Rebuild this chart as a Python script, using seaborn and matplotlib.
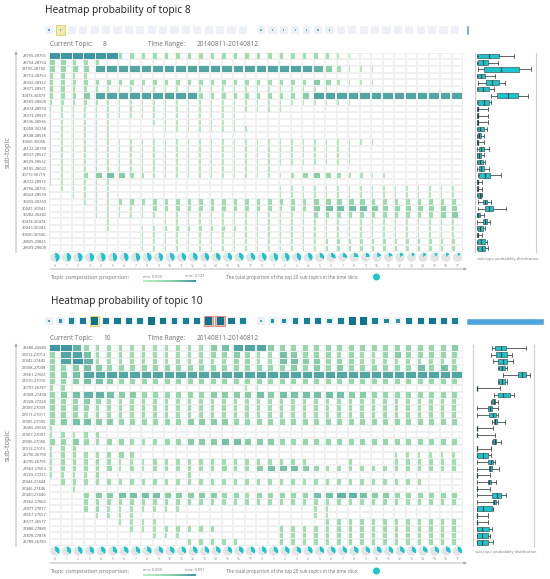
import numpy as np
import pandas as pd
import matplotlib
matplotlib.use("Agg")
import matplotlib.pyplot as plt
import seaborn as sns
from matplotlib.colors import LinearSegmentedColormap, ListedColormap
from matplotlib.patches import Circle

# ------------------------------------------------------------------ data
slot_labels = [str(i) for i in range(18)] * 2          # 2 days x 18 time slices

t8_title = "Heatmap probability of topic 8"
t8_topic = "8"
t8_range = "20140811-20140812"
t8_max = 0.127
t8_labels = ["28755-28755", "28754-28754", "28105-28105", "28753-28753", "28322-28322",
             "28971-28971", "30473-30473", "28509-28509", "28974-28974", "28973-28973",
             "28536-28536", "30258-30258", "28538-28538", "30056-30056", "28122-28109",
             "28537-28537", "28529-28532", "28105-28022", "30719-30719", "28972-28972",
             "28756-28756", "28022-28539", "30259-30259", "30041-30041", "30282-30282",
             "30474-30474", "30043-30043", "30500-30500", "29825-29825", "29609-29609"]
# probability level per cell, 0..9 (x max/9), 36 time slices per row
t8_levels = [
    "999999 333333 333333 333333 311000 000000",
    "443330 000000 000000 000000 000000 000000",
    "444488 888888 888888 888887 531110 000000",
    "332200 000000 000000 000000 000000 000000",
    "333333 333333 333333 333335 421110 000000",
    "332221 111111 111111 111111 100000 000000",
    "333588 888888 833333 333358 888888 888888",
    "222221 111111 111111 111111 111000 000000",
    "111111 111111 111111 111000 000000 000000",
    "111111 111111 111110 000000 000000 000000",
    "111111 000111 111110 000000 000000 000000",
    "111111 000011 111111 000000 000000 000000",
    "111111 000000 000000 000000 000000 000000",
    "111111 111111 111111 111111 111110 000000",
    "111111 111111 111111 111111 111000 000000",
    "111111 111111 111111 111111 111000 000000",
    "111111 111111 111111 111111 111000 000000",
    "111111 111111 111111 110000 000000 000000",
    "111356 532111 111111 111245 432211 000000",
    "111111 000000 000000 000000 000000 000000",
    "011111 000000 000000 001111 111111 111111",
    "001111 000000 000000 001111 111111 111111",
    "000111 333333 333333 333334 444433 333333",
    "000011 111333 333333 332335 666654 444444",
    "000011 111111 111111 111113 333333 333345",
    "000001 000011 111111 111111 111111 111111",
    "000001 001122 222221 111111 111111 111111",
    "000000 001111 111111 111111 111111 111111",
    "000000 001111 111111 111111 222222 222222",
    "000000 001111 111111 111111 222222 222222",
]
# box statistics per sub-topic: whisker low, Q1, median, Q3, whisker high
t8_box = [
    (0.0000, 0.0007, 0.0247, 0.0482, 0.0795), (0.0000, 0.0007, 0.0116, 0.0226, 0.0445),
    (0.0007, 0.0138, 0.0526, 0.0920, 0.1183), (0.0000, 0.0007, 0.0088, 0.0160, 0.0394),
    (0.0007, 0.0191, 0.0322, 0.0466, 0.0613), (0.0000, 0.0007, 0.0116, 0.0247, 0.0357),
    (0.0307, 0.0431, 0.0664, 0.0883, 0.1110), (0.0000, 0.0007, 0.0138, 0.0247, 0.0307),
    (0.0000, 0.0000, 0.0011, 0.0022, 0.0226), (0.0000, 0.0000, 0.0011, 0.0022, 0.0226),
    (0.0000, 0.0000, 0.0011, 0.0022, 0.0226), (0.0000, 0.0007, 0.0066, 0.0138, 0.0212),
    (0.0000, 0.0007, 0.0033, 0.0077, 0.0138), (0.0000, 0.0000, 0.0011, 0.0022, 0.0138),
    (0.0000, 0.0028, 0.0077, 0.0138, 0.0247), (0.0000, 0.0000, 0.0033, 0.0077, 0.0138),
    (0.0000, 0.0007, 0.0055, 0.0116, 0.0160), (0.0000, 0.0028, 0.0077, 0.0138, 0.0247),
    (0.0007, 0.0044, 0.0160, 0.0285, 0.0519), (0.0000, 0.0000, 0.0011, 0.0022, 0.0103),
    (0.0000, 0.0000, 0.0011, 0.0022, 0.0103), (0.0000, 0.0022, 0.0055, 0.0088, 0.0103),
    (0.0007, 0.0116, 0.0160, 0.0212, 0.0307), (0.0007, 0.0160, 0.0247, 0.0335, 0.0628),
    (0.0000, 0.0000, 0.0022, 0.0055, 0.0153), (0.0000, 0.0116, 0.0160, 0.0212, 0.0285),
    (0.0000, 0.0022, 0.0066, 0.0131, 0.0160), (0.0000, 0.0000, 0.0011, 0.0022, 0.0103),
    (0.0000, 0.0007, 0.0088, 0.0160, 0.0212), (0.0000, 0.0007, 0.0094, 0.0175, 0.0226),
]
t8_pie = [0.47, 0.46, 0.46, 0.45, 0.45, 0.45, 0.44, 0.44, 0.43, 0.42, 0.41, 0.40,
          0.40, 0.40, 0.39, 0.38, 0.38, 0.38, 0.40, 0.42, 0.42, 0.40, 0.38, 0.32,
          0.30, 0.28, 0.25, 0.23, 0.21, 0.19, 0.16, 0.15, 0.15, 0.14, 0.13, 0.13]
t8_strip = [0.15, 0.18, 0.10, 0.10, 0.12, 0.12, 0.10, 0.10, 0.12, 0.10, 0.12, 0.10,
            0.10, 0.10, 0.12, 0.10, 0.12, 0.10, 0.15, 0.15, 0.15, 0.14, 0.14, 0.14,
            0.14, 0.12, 0.12, 0.12, 0.12, 0.12, 0.12, 0.10, 0.10, 0.10, 0.10, 0.10]
t8_current = [1]
t8_alert = []
t8_total = 0.04

t10_title = "Heatmap probability of topic 10"
t10_topic = "10"
t10_range = "20140811-20140812"
t10_max = 0.051
t10_labels = ["26580-26580", "27012-27012", "27442-27442", "27008-27008", "27661-27661",
              "27010-27010", "26797-26797", "27458-27458", "27228-27228", "27009-27009",
              "27011-27011", "27005-27005", "25065-25065", "27007-27007", "27006-27006",
              "27013-27013", "26790-26790", "26795-26795", "27663-27663", "27225-27225",
              "27444-27444", "27446-27446", "27440-27440", "27662-27662", "27877-27877",
              "27657-27657", "26577-26577", "27880-27880", "27878-27878", "26789-26789"]
t10_levels = [
    "997433 333333 335688 854444 444444 444445",
    "488633 333333 334454 336544 434334 544444",
    "489733 333333 333344 336655 444333 333333",
    "445654 444444 444444 444545 454444 446464",
    "456888 888888 888888 888888 888888 888888",
    "445665 444444 444444 444444 444444 444444",
    "330000 000000 000001 100000 000000 000000",
    "456776 554444 445555 656666 665544 444444",
    "444543 333333 333333 333333 333333 333333",
    "444433 333333 333333 333333 333333 333333",
    "444333 333333 333333 333333 333333 333333",
    "456655 444444 555544 444444 444444 444444",
    "200000 000000 000000 000000 000000 000000",
    "232330 000000 000000 000000 000000 000000",
    "445434 433344 555665 554444 444444 444444",
    "233000 000000 000000 000000 000000 000000",
    "233333 430000 000000 000000 000000 222222",
    "233333 222333 333333 333330 003000 333333",
    "233334 232333 333433 566654 333333 333333",
    "222230 000000 300000 000000 000000 000000",
    "033333 333333 333333 333333 333333 333000",
    "002000 000000 000000 000000 000000 000000",
    "000455 666655 555443 444446 677655 444444",
    "000333 333333 333333 333333 333333 333333",
    "000332 222222 000000 000002 200000 000000",
    "000022 220000 000000 000002 200000 000000",
    "000000 222200 000000 000000 333333 333333",
    "000000 022233 333000 003333 333333 333333",
    "000000 000222 000000 003333 333333 333333",
    "000000 000000 333330 003333 333333 333333",
]
t10_box = [
    (0.0134, 0.0163, 0.0213, 0.0257, 0.0432), (0.0127, 0.0171, 0.0215, 0.0265, 0.0315),
    (0.0148, 0.0192, 0.0236, 0.0271, 0.0323), (0.0186, 0.0198, 0.0222, 0.0251, 0.0265),
    (0.0230, 0.0362, 0.0397, 0.0432, 0.0470), (0.0186, 0.0200, 0.0222, 0.0251, 0.0271),
    (0.0000, 0.0000, 0.0000, 0.0003, 0.0207), (0.0154, 0.0186, 0.0230, 0.0294, 0.0332),
    (0.0127, 0.0139, 0.0154, 0.0163, 0.0192), (0.0002, 0.0104, 0.0119, 0.0139, 0.0186),
    (0.0002, 0.0110, 0.0142, 0.0169, 0.0186), (0.0134, 0.0154, 0.0163, 0.0178, 0.0251),
    (0.0000, 0.0000, 0.0000, 0.0003, 0.0148), (0.0000, 0.0000, 0.0000, 0.0003, 0.0163),
    (0.0134, 0.0148, 0.0163, 0.0169, 0.0215), (0.0000, 0.0000, 0.0000, 0.0003, 0.0127),
    (0.0000, 0.0002, 0.0060, 0.0104, 0.0127), (0.0002, 0.0104, 0.0127, 0.0148, 0.0163),
    (0.0002, 0.0110, 0.0121, 0.0134, 0.0198), (0.0000, 0.0000, 0.0000, 0.0003, 0.0119),
    (0.0002, 0.0098, 0.0113, 0.0127, 0.0171), (0.0000, 0.0000, 0.0000, 0.0003, 0.0116),
    (0.0002, 0.0132, 0.0178, 0.0211, 0.0257), (0.0002, 0.0141, 0.0156, 0.0170, 0.0192),
    (0.0000, 0.0002, 0.0060, 0.0134, 0.0142), (0.0000, 0.0000, 0.0000, 0.0003, 0.0104),
    (0.0000, 0.0000, 0.0000, 0.0003, 0.0104), (0.0000, 0.0002, 0.0051, 0.0110, 0.0134),
    (0.0000, 0.0002, 0.0051, 0.0098, 0.0119), (0.0000, 0.0002, 0.0051, 0.0104, 0.0142),
]
t10_pie = [0.36, 0.37, 0.38, 0.37, 0.36, 0.36, 0.35, 0.36, 0.36, 0.35, 0.36, 0.35,
           0.36, 0.35, 0.35, 0.34, 0.35, 0.35, 0.36, 0.35, 0.36, 0.35, 0.35, 0.34,
           0.35, 0.34, 0.35, 0.34, 0.34, 0.35, 0.34, 0.34, 0.33, 0.34, 0.34, 0.35]
t10_strip = [0.25, 0.44, 0.62, 0.75, 0.88, 0.75, 0.75, 0.75, 0.69, 0.88, 0.81, 0.69,
             0.69, 0.75, 0.88, 0.88, 0.75, 0.62, 0.25, 0.44, 0.54, 0.62, 0.71, 0.75,
             0.59, 0.71, 0.88, 0.88, 0.66, 0.59, 0.41, 0.71, 0.79, 0.84, 0.75, 0.66]
t10_current = [4]
t10_alert = [14, 15]
t10_total = 0.97

# ------------------------------------------------------------------ style
sns.set_theme(style="white")
plt.rcParams['font.family'] = ['Open Sans', 'DejaVu Sans']

W, H = 550, 579
HX0, HX1 = 49.3, 463.3
hm_cmap = LinearSegmentedColormap.from_list("hm", ["#bdeec0", "#90d5a8", "#3f98a1"])
strip_cmap = LinearSegmentedColormap.from_list("st", ["#6fb8e0", "#1b8fa6", "#0b6a80"])
PIE_C = "#1cc5cc"
GREY = "#6e6e6e"

fig = plt.figure(figsize=(W / 100, H / 100), dpi=100)


def px(x0, y0, x1, y1):
    return [x0 / W, 1 - y1 / H, (x1 - x0) / W, (y1 - y0) / H]


ov = fig.add_axes([0, 0, 1, 1])
ov.set_xlim(0, W)
ov.set_ylim(H, 0)
ov.axis("off")


def panel(title, topic, trange, vmax, labels, levels, box, pies, strip, current, alert,
          total, g):
    n = len(labels)
    top, rh = g["top"], g["rh"]
    bottom = top + rh * n
    lev = np.array([[int(ch) for ch in s.replace(" ", "")] for s in levels])
    assert lev.shape == (n, 36), lev.shape
    vals = lev / 9.0 * vmax

    # ---- heatmap grid + cells
    ax = fig.add_axes(px(HX0, top, HX1, bottom))
    sns.heatmap(pd.DataFrame(np.zeros_like(vals), index=labels), ax=ax,
                cmap=ListedColormap(["white"]), cbar=False, linewidths=0.3,
                linecolor="#f0f0f0", xticklabels=False, yticklabels=labels)
    ax.tick_params(axis="y", length=0, pad=2, labelsize=2.9, labelcolor="#555555")
    for t in ax.get_yticklabels():
        t.set_rotation(0)
    rr, cc = np.nonzero(lev)
    fr = vals[rr, cc] / vmax
    ax.bar(cc + 0.05, 0.84, width=0.92 * fr, bottom=rr + 0.08, align="edge",
           color=hm_cmap(fr), linewidth=0)
    ax.set_ylim(n, 0)
    ax.set_xlim(0, 36)
    ax.set_ylabel("")

    # ---- box plots of each sub-topic
    bx = fig.add_axes(px(g["bx0"], top, g["bx1"], bottom))
    stats = [dict(whislo=b[0], q1=b[1], med=b[2], q3=b[3], whishi=b[4], fliers=[],
                  label=lab) for b, lab in zip(box, labels)]
    kw = dict(positions=np.arange(n), widths=0.7, patch_artist=True, showfliers=False,
              capwidths=0.6,
              boxprops=dict(facecolor="#18c6cc", edgecolor="#3f5a5c", linewidth=0.5),
              whiskerprops=dict(color="#4a4a4a", linewidth=0.6),
              capprops=dict(color="#4a4a4a", linewidth=0.6),
              medianprops=dict(color="#1d4a4d", linewidth=0.9))
    try:
        bx.bxp(stats, orientation="horizontal", **kw)
    except TypeError:
        bx.bxp(stats, vert=False, **kw)
    bx.set_ylim(n - 0.5, -0.5)
    bx.set_xlim(g["bxlim"])
    bx.set_xticks([])
    bx.set_yticks([])
    for s in ["top", "bottom"]:
        bx.spines[s].set_visible(False)
    for s in ["left", "right"]:
        bx.spines[s].set_color("#cfcfcf")
        bx.spines[s].set_linewidth(0.8)

    # ---- pies (total proportion per time slice)
    pa = fig.add_axes(px(HX0, g["pie"] - 5.75, HX1, g["pie"] + 5.75))
    for c, f in enumerate(pies):
        pa.pie([f, 1 - f], center=(c + 0.5, 0), radius=0.4, startangle=90,
               counterclock=False, colors=[PIE_C, "#e3e3e3"],
               wedgeprops=dict(linewidth=0), frame=True)
    pa.set_aspect("auto")
    pa.set_xlim(0, 36)
    pa.set_ylim(-0.5, 0.5)
    pa.set_xticks(np.arange(36) + 0.5)
    pa.set_xticklabels(slot_labels, fontsize=2.4, color="#888888")
    pa.set_yticks([])
    pa.tick_params(axis="x", length=0, pad=0.4)
    for s in pa.spines.values():
        s.set_visible(False)
    pa.patch.set_alpha(0)

    # ---- time-slice strip
    sa = fig.add_axes(px(43.3, g["strip"] - 5.7, 460.7, g["strip"] + 5.7))
    xs = np.arange(36) + np.where(np.arange(36) >= 18, 0.58, 0.0)
    sa.bar(xs, 0.72, width=0.72, bottom=-0.36, color="#ebf1f7", linewidth=0)
    for i in current:
        sa.bar(xs[i], 0.82, width=0.82, bottom=-0.41, color="#eeeab0",
               edgecolor="#d8cf5c", linewidth=0.6)
    for i in alert:
        sa.bar(xs[i], 0.82, width=0.82, bottom=-0.41, color="#f5b5aa",
               edgecolor="#e47a6c", linewidth=0.6)
    sv = np.array(strip)
    side = 0.72 * sv
    sa.bar(xs, side, width=side, bottom=-side / 2, color=strip_cmap(sv), linewidth=0)
    sa.set_xlim(-0.5, 36.08)
    sa.set_ylim(-0.5, 0.5)
    sa.axis("off")

    # ---- topic share bar
    ba = fig.add_axes(px(466, g["bar"][0], 546, g["bar"][1]))
    ba.barh([0], [total], height=1, color="#4ea4dd")
    ba.set_xlim(0, 1)
    ba.set_ylim(-0.5, 0.5)
    ba.axis("off")

    # ---- legend gradient
    ga = fig.add_axes(px(143, g["grad"] - 1.1, 196, g["grad"] + 1.1))
    ga.imshow(np.linspace(0, 1, 200)[None, :], aspect="auto", cmap=hm_cmap)
    ga.axis("off")

    # ---- texts & axis arrows
    ov.text(g["tx"], g["ty"], title, fontsize=7.4, color="#1e1e1e", va="center")
    ov.text(50, g["cur"], "Current Topic:", fontsize=4.7, color=GREY, va="center")
    ov.text(103, g["cur"], topic, fontsize=4.7, color=GREY, va="center")
    ov.text(148, g["cur"], "Time Range:", fontsize=4.7, color=GREY, va="center")
    ov.text(197, g["cur"], trange, fontsize=4.7, color=GREY, va="center")
    ov.text(8, (top + bottom) / 2, "sub-topic", rotation=90, fontsize=5.3, color="#777777",
            va="center", ha="center")
    ov.annotate("", xy=(16, top - 1.5), xytext=(16, bottom + 1),
                arrowprops=dict(arrowstyle="-|>", color="#aaaaaa", lw=0.6,
                                mutation_scale=4, shrinkA=0, shrinkB=0))
    ov.annotate("", xy=(467, g["axis"]), xytext=(50, g["axis"]),
                arrowprops=dict(arrowstyle="-|>", color="#aaaaaa", lw=0.6,
                                mutation_scale=4, shrinkA=0, shrinkB=0))
    ly = g["leg"]
    ov.text(50, ly, "Topic composition proportion:", fontsize=4.1, color=GREY,
            va="center")
    ov.text(143, g["grad"] - 4.3, "min: 0.000", fontsize=2.7, color=GREY, va="center")
    ov.text(185, g["grad"] - 4.8, "max: %.3f" % vmax, fontsize=2.7, color=GREY,
            va="center")
    ov.text(226, ly, "The total proportion of the top 20 sub-topics in the time slice:",
            fontsize=3.3, color=GREY, va="center")
    ov.add_patch(Circle((376.5, ly), 2.8, color=PIE_C))
    ov.text((g["bx0"] + g["bx1"]) / 2 + 2, g["dist"], "sub-topic probability distribution",
            fontsize=2.9, color="#777777", ha="center", va="center")


panel(t8_title, t8_topic, t8_range, t8_max, t8_labels, t8_levels, t8_box, t8_pie,
      t8_strip, t8_current, t8_alert, t8_total,
      dict(top=52.7, rh=6.63, tx=45, ty=10.7, strip=30, cur=45, pie=257.3, axis=269,
           leg=277, grad=280.8, bx0=475, bx1=536, bxlim=(-0.0050, 0.1285), dist=259,
           bar=(25, 35)))
panel(t10_title, t10_topic, t10_range, t10_max, t10_labels, t10_levels, t10_box,
      t10_pie, t10_strip, t10_current, t10_alert, t10_total,
      dict(top=344.65, rh=6.70, tx=51, ty=301.7, strip=321, cur=338.3, pie=551,
           axis=563, leg=571, grad=574.6, bx0=473, bx1=534, bxlim=(-0.0031, 0.0505),
           dist=552, bar=(318, 325)))

fig.savefig("out.png", dpi=100)
